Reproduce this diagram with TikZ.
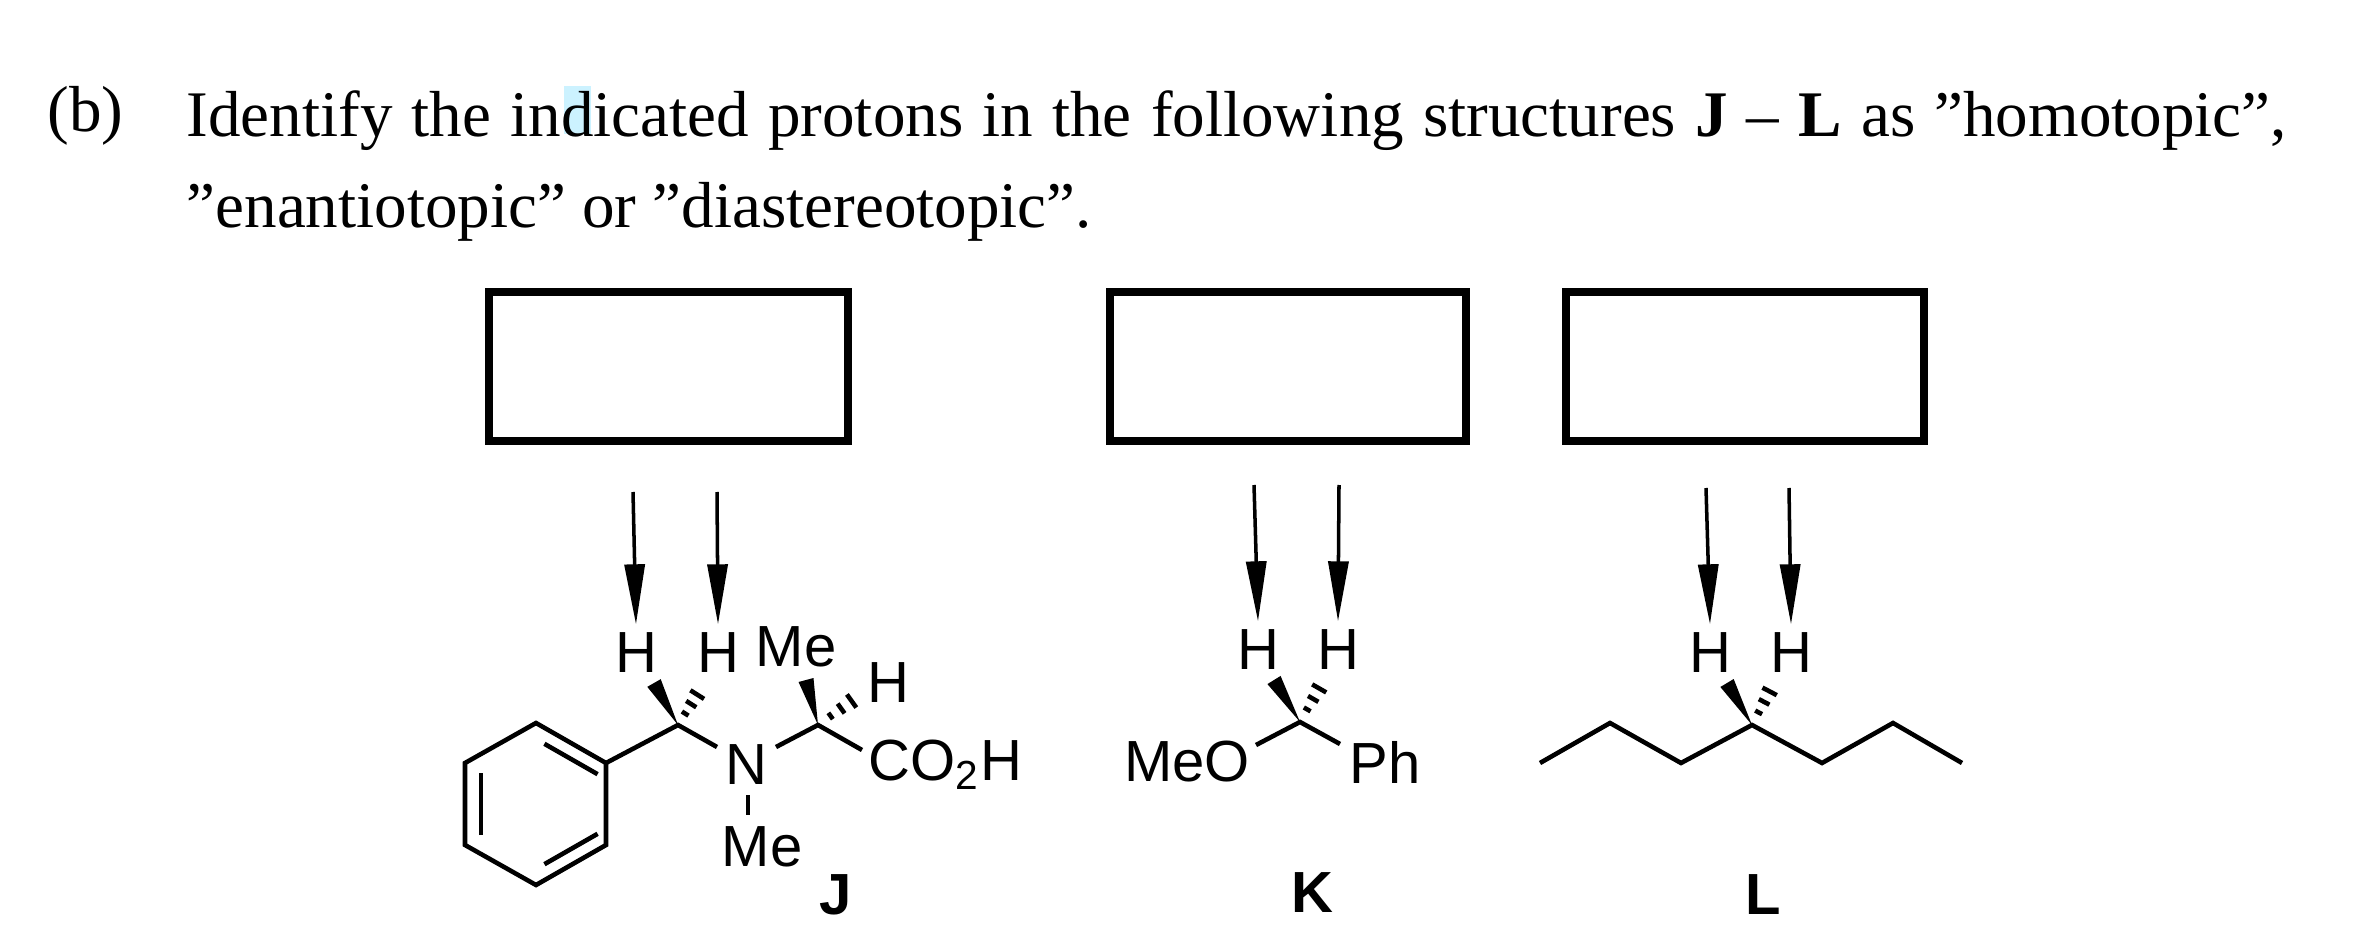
\documentclass[tikz,border=0pt]{standalone}
\usepackage{fontspec}
\setmainfont[Ligatures=ResetAll]{Liberation Serif}
\newfontfamily\chemf{Liberation Sans}
\usetikzlibrary{calc,arrows.meta}
\tikzset{
 bond/.style={line width=1.3pt},
 atom/.style={font=\chemf\fontsize{16.5}{18}\selectfont,inner sep=0pt},
 lbl/.style={font=\chemf\bfseries\fontsize{16.5}{18}\selectfont,inner sep=0pt},
 ansbox/.style={draw,line width=2.2pt},
 ptr/.style={line width=1pt,-{Triangle[length=0.6cm,width=0.2cm]}}
}
\newcommand\qq{"}
\newcommand\wdg[2]{\fill ($(#1)$) -- ($(#2)!2.2pt!90:(#1)$) -- ($(#2)!2.2pt!-90:(#1)$) -- cycle;}
\newcommand\hsh[2]{\foreach \t/\w in {0.3/1.1pt,0.55/1.7pt,0.8/2.3pt,1.0/2.8pt}{
  \coordinate (hp) at ($(#1)!\t!(#2)$);
  \draw[line width=1.3pt] ($(hp)!\w!90:(#2)$) -- ($(hp)!\w!-90:(#2)$);}}
\begin{document}
\begin{tikzpicture}[x=0.01cm,y=-0.01cm]
\useasboundingbox (0,0) rectangle (2364,940);
\fill[blue!25!cyan!20] (564,86) rectangle (591,134);
\node[anchor=base west,inner sep=0pt,font=\fontsize{18.5}{26}\selectfont] (b) at (47,132) {(b)};
\node[anchor=north west,inner sep=0pt,text width=20.99cm,align=justify,font=\fontsize{18.5}{25.8}\selectfont] (q) at (186,90)
 {Identify the indicated protons in the following structures \textbf{J} \textendash{} \textbf{L} as \qq homotopic\qq, \qq enantiotopic\qq{} or \qq diastereotopic\qq.};
% boxes
\node[ansbox,minimum width=3.59cm,minimum height=1.49cm] (bJ) at (668.5,366.5) {};
\node[ansbox,minimum width=3.56cm,minimum height=1.49cm] (bK) at (1288,366.5) {};
\node[ansbox,minimum width=3.58cm,minimum height=1.49cm] (bL) at (1745,366.5) {};
% J
\coordinate (a1) at (536,723);\coordinate (a2) at (606,763);\coordinate (a3) at (606,845);
\coordinate (a4) at (536,885);\coordinate (a5) at (465,845);\coordinate (a6) at (465,763);
\draw[bond] (a1)--(a2)--(a3)--(a4)--(a5)--(a6)--cycle;
\draw[bond] ($(a1)!0.12!(a2)+(0,16)$)--($(a1)!0.88!(a2)+(0,16)$);
\draw[bond] ($(a3)!0.12!(a4)+(0,-16)$)--($(a3)!0.88!(a4)+(0,-16)$);
\draw[bond] ($(a5)!0.12!(a6)+(16,0)$)--($(a5)!0.88!(a6)+(16,0)$);
\coordinate (c1) at (678,725);
\node[atom] (N) at (746,765) {N};
\coordinate (c2) at (818,725);
\draw[bond] (a2)--(c1)--(717,747);
\draw[bond] (776,747)--(c2)--(862,750);
\node[atom,anchor=west] (co) at (868,765) {CO\textsubscript{2}H};
\node[atom] (H1) at (636,653) {H};
\node[atom] (H2) at (718,653) {H};
\node[atom] (Me1) at (796,647) {Me};
\node[atom] (H3) at (888,683) {H};
\node[atom] (Me2) at (762,847) {Me};
\draw[bond] (748,795)--(748,815);
\coordinate (w1) at (654,683);\coordinate (h1) at (702,687);
\coordinate (w2) at (806,680);\coordinate (h2) at (860,695);
\wdg{c1}{w1}\hsh{c1}{h1}\wdg{c2}{w2}\hsh{c2}{h2}
\node[lbl] (J) at (836,895) {J};
\coordinate (tJ1) at (633,492);\coordinate (tJ2) at (717,492);
\draw[ptr] (tJ1)--($(H1.north)+(0,-8)$);
\draw[ptr] (tJ2)--($(H2.north)+(0,-8)$);
% K
\coordinate (k) at (1300,722);
\node[atom] (MeO) at (1187,762) {MeO};
\node[atom] (Ph) at (1385,762) {Ph};
\draw[bond] (1256,745)--(k)--(1340,744);
\coordinate (wk) at (1274,680);\coordinate (hk) at (1324,680);
\wdg{k}{wk}\hsh{k}{hk}
\node[atom] (HK1) at (1258,650) {H};
\node[atom] (HK2) at (1338,650) {H};
\node[lbl] (K) at (1312,893) {K};
\coordinate (tK1) at (1254,485);\coordinate (tK2) at (1339,485);
\draw[ptr] (tK1)--($(HK1.north)+(0,-8)$);
\draw[ptr] (tK2)--($(HK2.north)+(0,-8)$);
% L
\coordinate (l) at (1752,725);
\draw[bond] (1540,763)--(1610,723)--(1681,763)--(l)--(1822,763)--(1893,723)--(1962,763);
\coordinate (wl) at (1727,683);\coordinate (hl) at (1774,683);
\wdg{l}{wl}\hsh{l}{hl}
\node[atom] (HL1) at (1710,653) {H};
\node[atom] (HL2) at (1791,653) {H};
\node[lbl] (L) at (1763,895) {L};
\coordinate (tL1) at (1706,488);\coordinate (tL2) at (1789,488);
\draw[ptr] (tL1)--($(HL1.north)+(0,-8)$);
\draw[ptr] (tL2)--($(HL2.north)+(0,-8)$);
\end{tikzpicture}
\end{document}
